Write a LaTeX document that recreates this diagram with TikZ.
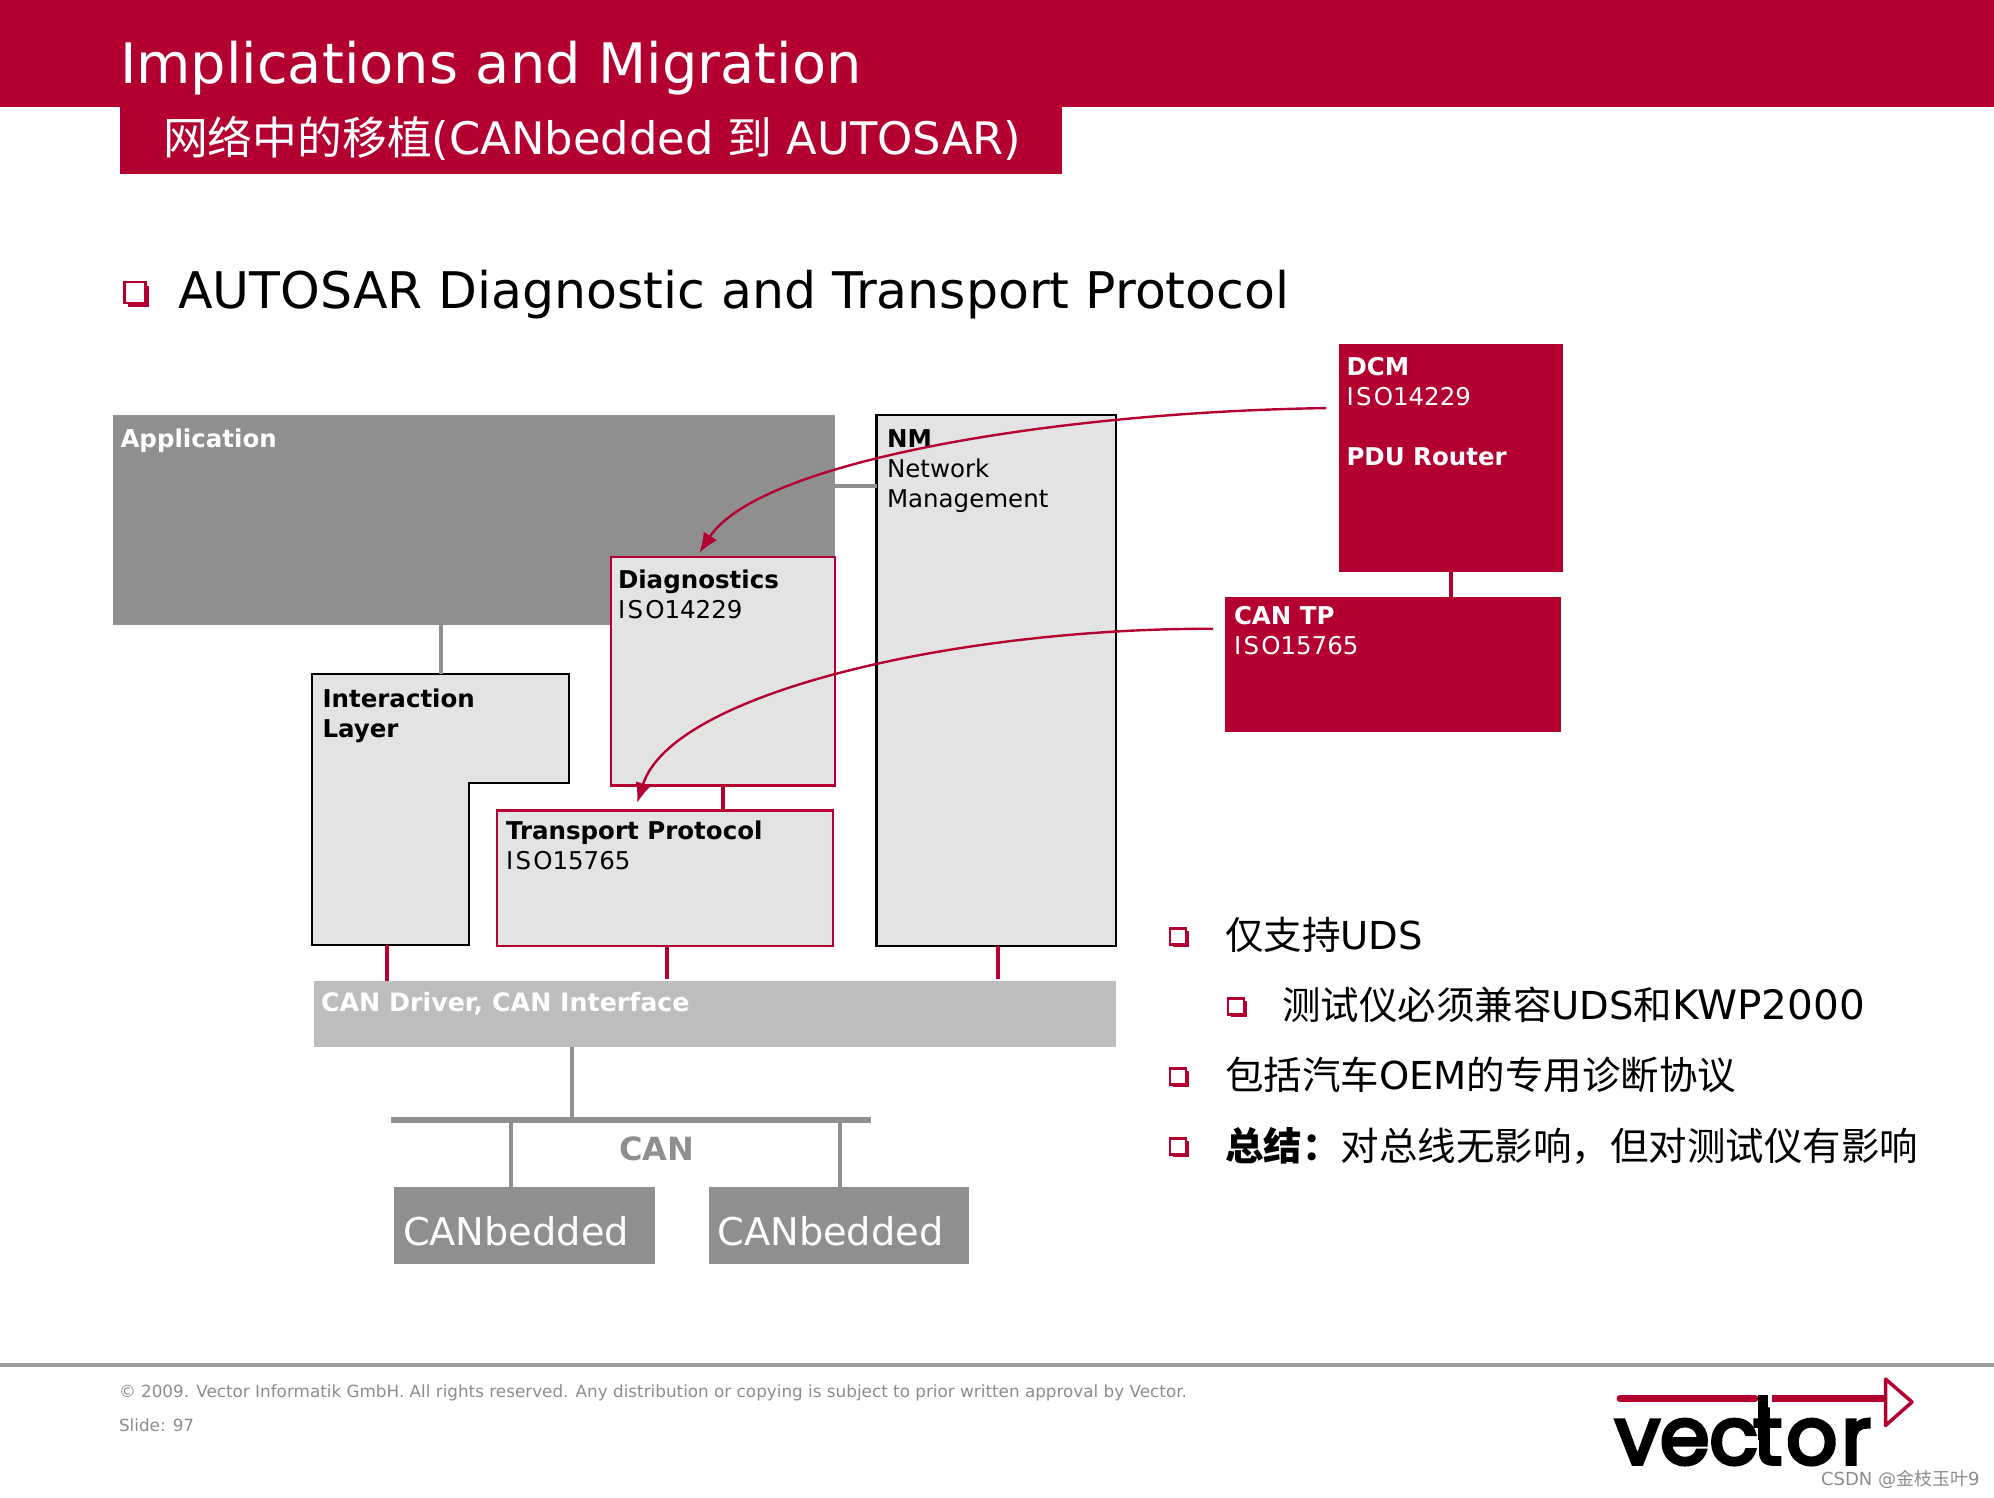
\documentclass[tikz,border=0pt]{standalone}
\usepackage{fontspec}
\usepackage{xcolor}
\setmainfont{DejaVu Sans}
\newfontfamily\cjkfont{Noto Sans CJK SC}
\newfontfamily\logofont[FakeBold=4.5]{Poppins}
\usetikzlibrary{positioning,calc,shadows,arrows.meta}
\definecolor{vecred}{HTML}{B40030}
\definecolor{vecgray}{HTML}{8F8F8F}
\definecolor{vecbar}{HTML}{BDBDBD}
\definecolor{vecfill}{HTML}{E3E3E3}
\definecolor{vecfoot}{HTML}{8C8C8C}
\newcommand{\isotxt}[1]{I\kern2.5pt S\kern2pt O#1}
\tikzset{
	box/.style={rectangle,inner sep=0,outer sep=0,anchor=north west},
	redbox/.style={box,fill=vecred},
	graybox/.style={box,fill=vecgray},
	redline/.style={box,fill=vecfill,draw=vecred,line width=2.2pt},
	blackline/.style={box,fill=vecfill,draw=black,line width=2.4pt},
	txt/.style={inner sep=0,outer sep=0,anchor=base west,align=left,font=\fontsize{24.5}{30}\selectfont},
	redlink/.style={draw=vecred,line width=4pt},
	graylink/.style={draw=vecgray,line width=4pt},
	curvelink/.style={-{Latex[length=20pt,width=16pt]},draw=vecred,line width=2.4pt},
	bulletsq/.style={rectangle,inner sep=0,outer sep=0,draw=vecred,fill=white,line width={#1*0.13pt},minimum size={#1*1pt},
		general shadow={fill=vecred,shadow xshift={#1*0.18pt},shadow yshift={#1*-0.18pt}}},
	listtxt/.style={inner sep=0,outer sep=0,anchor=base west,font=\fontsize{38.5}{46}\selectfont}
}
\begin{document}
\begin{tikzpicture}[x=1pt,y=-1pt]
	\useasboundingbox (0,0) rectangle (1994,1497);
	\fill[vecred] (0,0) rectangle (1994,107);
	\node[redbox,minimum width=942,minimum height=67] (subband) at (120,107) {};
	\node[txt,text=white,font=\fontsize{55.8}{66}\selectfont] (title) at (120,83) {Implications and Migration};
	\node[txt,text=white,font=\fontsize{44.8}{52}\selectfont] (subtitle) at (163,154) {{\cjkfont 网络中的移植}(CANbedded {\cjkfont 到} AUTOSAR)};
	\node[bulletsq=21] (headbul) at (135.2,292.5) {};
	\node[txt,font=\fontsize{50.5}{60}\selectfont] (heading) at (178,308) {AUTOSAR Diagnostic and Transport Protocol};

	\node[graybox,minimum width=722,minimum height=210] (app) at (113,415) {};
	\node[txt,text=white,font=\fontsize{24.5}{30}\selectfont\bfseries] (apptxt) at (120.5,447.5) {Application};
	\node[redline,minimum width=224,minimum height=228.5] (diag) at (611,557) {};
	\node[txt] (diagtxt) at (618,618) {\textbf{Diagnostics}\\\isotxt{14229}};
	\node[redline,minimum width=336,minimum height=135.5] (trans) at (497,810.5) {};
	\node[txt] (transtxt) at (506,869) {\textbf{Transport Protocol}\\\isotxt{15765}};
	\node[blackline,minimum width=239.5,minimum height=531] (nm) at (876.5,415) {};
	\node[txt] (nmtxt) at (887,507) {\textbf{NM}\\Network\\Management};
	\draw[fill=vecfill,draw=black,line width=2.4pt] (312,674) -- (569,674) -- (569,783) -- (469,783) -- (469,945) -- (312,945) -- cycle;
	\node[txt] (iltxt) at (322.5,737) {\textbf{Interaction}\\\textbf{Layer}};
	\coordinate (ilin) at (441,674);
	\coordinate (ilout) at (387,945);
	\coordinate (nmlink) at (850,486);

	\node[redbox,minimum width=224,minimum height=227.5] (dcm) at (1339,344) {};
	\node[txt,text=white] (dcmtxt) at (1346.5,465) {\textbf{DCM}\\\isotxt{14229}\\[30pt]\textbf{PDU Router}};
	\node[redbox,minimum width=336,minimum height=135] (cantp) at (1225,597) {};
	\node[txt,text=white] (cantptxt) at (1234,654.5) {\textbf{CAN TP}\\\isotxt{15765}};

	\node[box,fill=vecbar,minimum width=802.5,minimum height=66] (driver) at (313.5,981) {};
	\node[txt,text=white,font=\fontsize{25.3}{30}\selectfont\bfseries] (drivertxt) at (321,1011) {CAN Driver, CAN Interface};
	\node[graybox,minimum width=480,minimum height=6] (canbus) at (391,1117) {};
	\node[txt,text=vecgray,font=\fontsize{32}{38}\selectfont\bfseries] (cantxt) at (619,1160) {CAN};
	\node[graybox,minimum width=260.5,minimum height=77] (cana) at (394,1187) {};
	\node[graybox,minimum width=260,minimum height=77] (canb) at (708.5,1187) {};
	\node[txt,text=white,font=\fontsize{38.3}{46}\selectfont] (canatxt) at (403,1245) {CANbedded};
	\node[txt,text=white,font=\fontsize{38.3}{46}\selectfont] (canbtxt) at (717.5,1245) {CANbedded};
	\coordinate (drvlink) at (572,1080);
	\coordinate (tapa) at (511,1150);
	\coordinate (tapb) at (840,1150);
	\coordinate (transout) at (667,1000);
	\coordinate (nmout) at (998,1000);

	\draw[graylink] (ilin |- app.south) -- (ilin);
	\draw[graylink] (app.east |- nmlink) -- (nm.west |- nmlink);
	\draw[redlink] (diag.south) -- (diag.south |- trans.north);
	\draw[redlink] (dcm.south) -- (dcm.south |- cantp.north);
	\draw[redlink] (ilout) -- (ilout |- driver.north);
	\draw[redlink,shorten >=2pt] (transout |- trans.south) -- (transout |- driver.north);
	\draw[redlink,shorten >=2pt] (nmout |- nm.south) -- (nmout |- driver.north);
	\draw[graylink] (drvlink |- driver.south) -- (drvlink |- canbus.north);
	\draw[graylink] (tapa |- canbus.south) -- (tapa |- cana.north);
	\draw[graylink] (tapb |- canbus.south) -- (tapb |- canb.north);

	\draw[curvelink,shorten <=13pt,shorten >=5pt] (dcm.156.9) .. controls (1060,412) and (760,460) .. (diag.103.5);
	\draw[curvelink,shorten <=12pt,shorten >=8pt] (cantp.168.4) .. controls (960,628) and (672,692) .. (trans.114.5);

	\node[bulletsq=16] (bula) at (1177.8,936.5) {};
	\node[listtxt] (lista) at (1225,949) {{\cjkfont 仅支持}UDS};
	\node[bulletsq=16] (bulb) at (1236.3,1006.5) {};
	\node[listtxt] (listb) at (1282,1019) {{\cjkfont 测试仪必须兼容}UDS{\cjkfont 和}{\fontsize{40.5}{46}\selectfont KWP2000}};
	\node[bulletsq=16] (bulc) at (1177.8,1076.5) {};
	\node[listtxt] (listc) at (1225,1089) {{\cjkfont 包括汽车}OEM{\cjkfont 的专用诊断协议}};
	\node[bulletsq=16] (buld) at (1177.8,1146.5) {};
	\node[listtxt] (listd) at (1225,1160) {{\cjkfont\bfseries 总结：}{\cjkfont 对总线无影响，但对测试仪有影响}};

	\draw[draw=vecfoot!85!white,line width=3.5pt] (0,1365) -- (1994,1365);
	\node[txt,text=vecfoot,font=\fontsize{16.8}{21}\selectfont] (copyr) at (119,1397) {© 2009. Vector Informatik GmbH. All rights reserved. Any distribution or copying is subject to prior written approval by Vector.};
	\node[txt,text=vecfoot,font=\fontsize{16.8}{21}\selectfont] (slideno) at (119,1431) {Slide: 97};

	\draw[vecred,line width=7pt,line cap=round] (1620,1398.5) -- (1755,1398.5);
	\draw[vecred,line width=7pt] (1772,1398.5) -- (1886,1398.5);
	\draw[vecred,line width=3.5pt,line join=round,fill=white] (1885.5,1379) -- (1912,1402) -- (1885.5,1425.5) -- cycle;
	\node[txt,font=\fontsize{80}{100}\logofont\selectfont] (logo) at (1615,1464) {vec\kern-5pt t\kern4pt o\kern4pt r};
	\draw[black,line width=9.5pt] (1763,1395) -- (1763,1440);
	\node[txt,text=vecfoot,font=\fontsize{18}{22}\selectfont] (mark) at (1821,1485) {CSDN @{\cjkfont 金枝玉叶}9};
\end{tikzpicture}
\end{document}
